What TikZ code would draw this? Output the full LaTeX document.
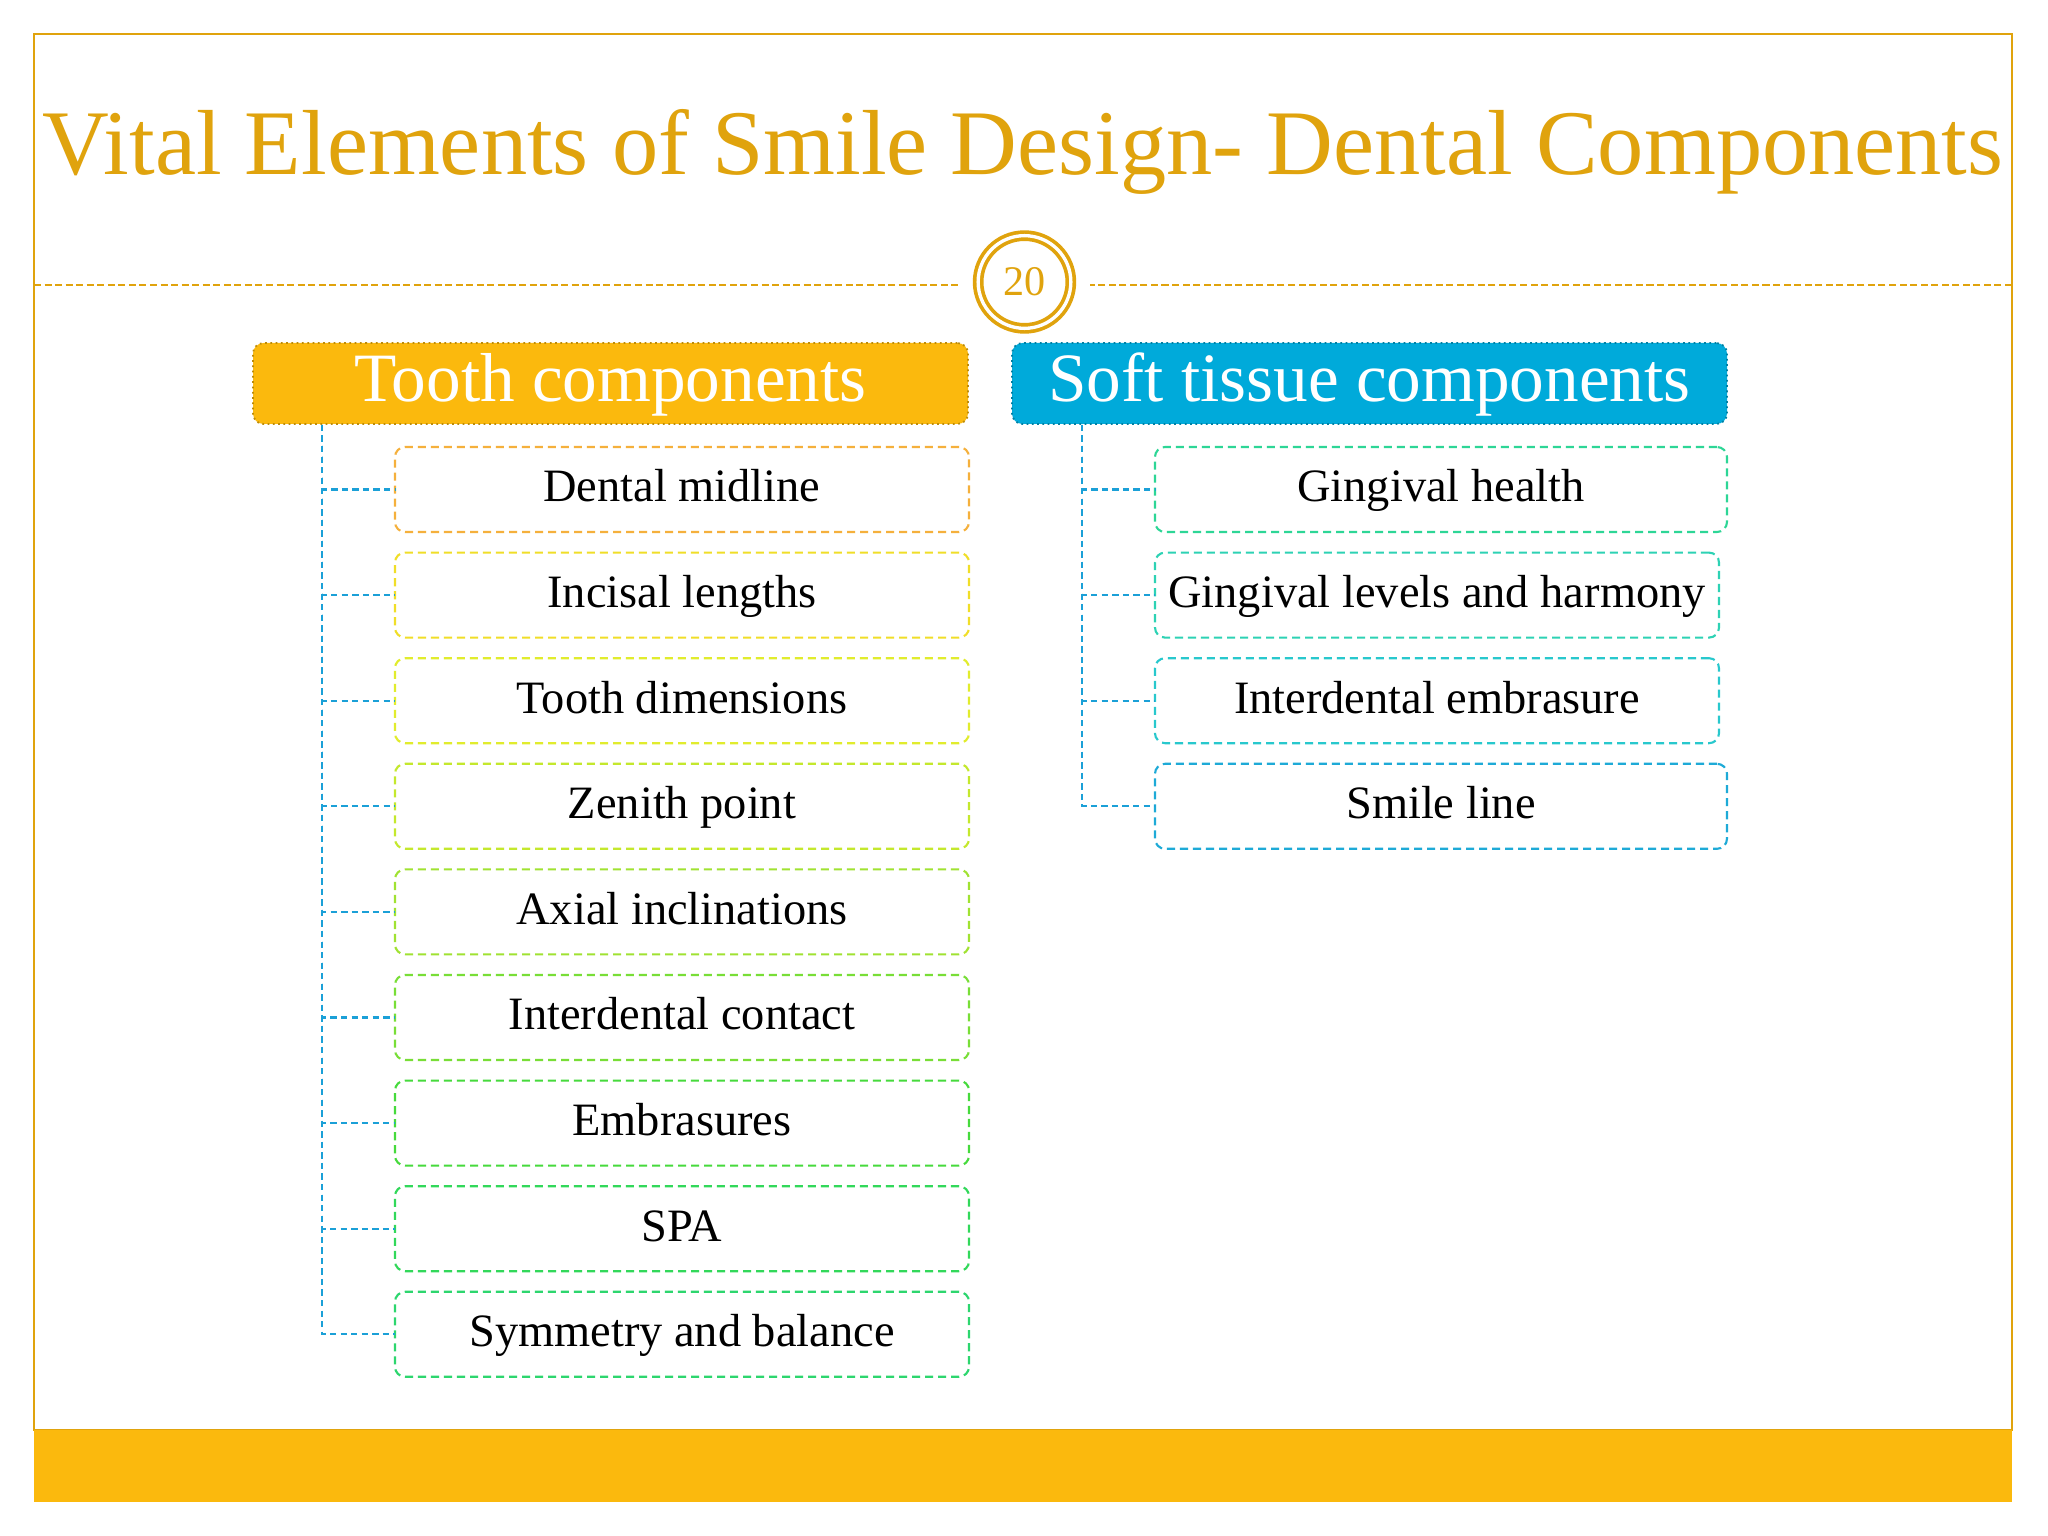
\documentclass[tikz,border=0pt]{standalone}
\usepackage{fontspec}
\setmainfont{Liberation Serif}
\usetikzlibrary{positioning}
\definecolor{gold}{RGB}{224,163,13}
\definecolor{amber}{RGB}{251,185,13}
\definecolor{skyblue}{RGB}{0,170,218}
\definecolor{linkblue}{RGB}{27,160,215}
\definecolor{tc1}{RGB}{245,176,60}
\definecolor{tc2}{RGB}{240,222,40}
\definecolor{tc3}{RGB}{225,236,45}
\definecolor{tc4}{RGB}{196,232,45}
\definecolor{tc5}{RGB}{160,226,50}
\definecolor{tc6}{RGB}{120,222,55}
\definecolor{tc7}{RGB}{70,218,60}
\definecolor{tc8}{RGB}{50,216,90}
\definecolor{tc9}{RGB}{45,214,110}
\definecolor{sc1}{RGB}{45,214,150}
\definecolor{sc2}{RGB}{45,210,180}
\definecolor{sc3}{RGB}{40,200,205}
\definecolor{sc4}{RGB}{30,170,215}
\tikzset{
  headnode/.style={rectangle,rounded corners=3pt,text=white,minimum width=7.15cm,
    minimum height=0.81cm,inner sep=0pt,line width=0.5pt,densely dotted,
    text height=14pt,text depth=3.5pt,font=\fontsize{19.7}{22}\selectfont},
  itemnode/.style={rectangle,rounded corners=0.1cm,draw=#1,fill=white,line width=0.6pt,
    dash pattern=on 2.3pt off 1.4pt,minimum width=5.74cm,minimum height=0.85cm,
    inner sep=0pt,outer sep=0pt,text height=9pt,text depth=1.9pt,
    font=\fontsize{13.2}{15}\selectfont},
  conn/.style={draw=linkblue,line width=0.6pt,dash pattern=on 1.8pt off 1.2pt},
  rule/.style={draw=gold,line width=0.6pt,dash pattern=on 2pt off 1pt}
}

\begin{document}
\begin{tikzpicture}

  \useasboundingbox[fill=white] (0,0) rectangle (20.48,-15.36);

  % Frame and footer bar
  \draw[gold,line width=0.6pt] (0.34,-0.34) rectangle (20.12,-14.30);
  \fill[amber] (0.34,-14.30) rectangle (20.12,-15.02);

  % Title
  \node[font=\fontsize{26.3}{30}\selectfont,text=gold,anchor=base] (title) at (10.23,-1.75)
    {Vital Elements of Smile Design- Dental Components};

  % Slide number
  \node[circle,draw=gold,line width=1.05pt,double,double distance=0.95pt,
    minimum size=0.927cm,inner sep=0pt,text=gold,font=\fontsize{12}{14}\selectfont]
    (badge) at (10.245,-2.82) {20};
  \coordinate (ruleL) at (0.34,-2.85);
  \coordinate (ruleR) at (20.12,-2.85);
  \draw[rule] (ruleL) -- ([xshift=-0.18cm]ruleL -| badge.west);
  \draw[rule] (ruleR) -- ([xshift=0.17cm]ruleR -| badge.east);

  % Tooth components
  \node[headnode,fill=amber,draw=amber!75!black] (tooth) at (6.105,-3.835) {Tooth components};
  \node[itemnode=tc1,anchor=west] (t1) at (3.95,-4.895) {Dental midline};
  \node[itemnode=tc2,below=0.206cm of t1] (t2) {Incisal lengths};
  \node[itemnode=tc3,below=0.206cm of t2] (t3) {Tooth dimensions};
  \node[itemnode=tc4,below=0.206cm of t3] (t4) {Zenith point};
  \node[itemnode=tc5,below=0.206cm of t4] (t5) {Axial inclinations};
  \node[itemnode=tc6,below=0.206cm of t5] (t6) {Interdental contact};
  \node[itemnode=tc7,below=0.206cm of t6] (t7) {Embrasures};
  \node[itemnode=tc8,below=0.206cm of t7] (t8) {SPA};
  \node[itemnode=tc9,below=0.206cm of t8] (t9) {Symmetry and balance};

  \draw[conn] ([xshift=0.70cm]tooth.south west) |- (t1.west);
  \draw[conn] ([xshift=0.70cm]tooth.south west) |- (t2.west);
  \draw[conn] ([xshift=0.70cm]tooth.south west) |- (t3.west);
  \draw[conn] ([xshift=0.70cm]tooth.south west) |- (t4.west);
  \draw[conn] ([xshift=0.70cm]tooth.south west) |- (t5.west);
  \draw[conn] ([xshift=0.70cm]tooth.south west) |- (t6.west);
  \draw[conn] ([xshift=0.70cm]tooth.south west) |- (t7.west);
  \draw[conn] ([xshift=0.70cm]tooth.south west) |- (t8.west);
  \draw[conn] ([xshift=0.70cm]tooth.south west) |- (t9.west);

  % Soft tissue components
  \node[headnode,fill=skyblue,draw=skyblue!75!black] (soft) at (13.695,-3.835) {Soft tissue components};
  \node[itemnode=sc1,anchor=west,minimum width=5.72cm] (s1) at (11.55,-4.895) {Gingival health};
  \node[itemnode=sc2,below=0.206cm of s1.south west,anchor=north west,minimum width=5.64cm]
    (s2) {Gingival levels and harmony};
  \node[itemnode=sc3,below=0.206cm of s2.south west,anchor=north west,minimum width=5.64cm]
    (s3) {Interdental embrasure};
  \node[itemnode=sc4,below=0.206cm of s3.south west,anchor=north west,minimum width=5.72cm]
    (s4) {Smile line};

  \draw[conn] ([xshift=0.71cm]soft.south west) |- (s1.west);
  \draw[conn] ([xshift=0.71cm]soft.south west) |- (s2.west);
  \draw[conn] ([xshift=0.71cm]soft.south west) |- (s3.west);
  \draw[conn] ([xshift=0.71cm]soft.south west) |- (s4.west);

\end{tikzpicture}
\end{document}
